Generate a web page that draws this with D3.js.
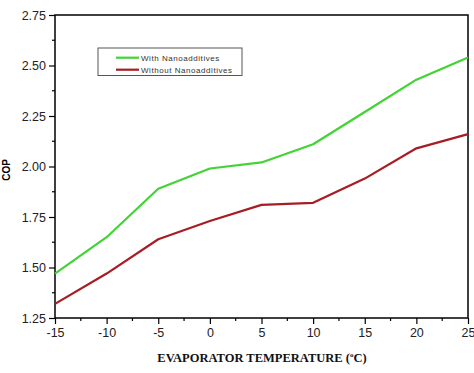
<!DOCTYPE html>
<html><head><meta charset="utf-8">
<script src="https://cdn.jsdelivr.net/npm/d3@7"></script>
<style>body{margin:0;background:#fff}</style>
</head><body>
<svg id="c" width="474" height="373"></svg>
<script>
const temps = [-15, -10, -5, 0, 5, 10, 15, 20, 25];
const withNano = [1.47, 1.65, 1.89, 1.99, 2.02, 2.11, 2.27, 2.43, 2.54];
const withoutNano = [1.32, 1.47, 1.64, 1.73, 1.81, 1.82, 1.94, 2.09, 2.16];
const seriesNames = ["With Nanoadditives", "Without Nanoadditives"];
const seriesColors = ["#42d334", "#a81c24"];
const yTicks = [1.25, 1.50, 1.75, 2.00, 2.25, 2.50, 2.75];
const xTicks = [-15, -10, -5, 0, 5, 10, 15, 20, 25];

const svg = d3.select("#c");
const L = 55, R = 468, T = 15, B = 318;
const x = d3.scaleLinear().domain([-15, 25]).range([L, R]);
const y = d3.scaleLinear().domain([1.25, 2.75]).range([B, T]);

// frame
svg.append("rect").attr("x", L).attr("y", T).attr("width", R - L).attr("height", B - T)
  .attr("fill", "none").attr("stroke", "#000").attr("stroke-width", 1.5);

// minor ticks
const xMinor = d3.range(-12.5, 25, 5);
const yMinor = d3.range(1.375, 2.75, 0.25);
svg.append("g").selectAll("line").data(xMinor).join("line")
  .attr("x1", d => x(d)).attr("x2", d => x(d)).attr("y1", B).attr("y2", B + 3)
  .attr("stroke", "#000").attr("stroke-width", 1.2);
svg.append("g").selectAll("line").data(yMinor).join("line")
  .attr("y1", d => y(d)).attr("y2", d => y(d)).attr("x1", L).attr("x2", L - 3)
  .attr("stroke", "#000").attr("stroke-width", 1.2);

const xAxis = svg.append("g").attr("transform", `translate(0,${B})`)
  .call(d3.axisBottom(x).tickValues(xTicks).tickSize(6).tickPadding(4).tickFormat(d => String(d)));
const yAxis = svg.append("g").attr("transform", `translate(${L},0)`)
  .call(d3.axisLeft(y).tickValues(yTicks).tickSize(6).tickPadding(3).tickFormat(d3.format(".2f")));
[xAxis, yAxis].forEach(a => {
  a.select(".domain").remove();
  a.selectAll("line").attr("stroke", "#000").attr("stroke-width", 1.2);
  a.selectAll("text").attr("font-family", "Liberation Sans, Arial, sans-serif")
    .attr("font-size", 12.5).attr("fill", "#222");
});

const line = d3.line().x((d, i) => x(temps[i])).y(d => y(d));
[withNano, withoutNano].forEach((s, i) => {
  svg.append("path").datum(s).attr("d", line).attr("fill", "none")
    .attr("stroke", seriesColors[i]).attr("stroke-width", 2.2).attr("stroke-linejoin", "round");
});

// legend
const lg = svg.append("g");
lg.append("rect").attr("x", 98).attr("y", 48).attr("width", 144).attr("height", 27.5)
  .attr("fill", "#fff").attr("stroke", "#555").attr("stroke-width", 1);
seriesNames.forEach((n, i) => {
  const yy = 57.7 + i * 12;
  lg.append("line").attr("x1", 116).attr("x2", 139).attr("y1", yy).attr("y2", yy)
    .attr("stroke", seriesColors[i]).attr("stroke-width", 2.2);
  lg.append("text").attr("x", 141).attr("y", yy + 3.2).text(n)
    .attr("font-family", "Liberation Sans, Arial, sans-serif").attr("font-size", 8)
    .attr("letter-spacing", 0.55).attr("fill", "#333");
});

// axis titles
svg.append("text").attr("transform", "translate(10,170) rotate(-90)")
  .attr("text-anchor", "middle").attr("font-family", "Liberation Sans, Arial, sans-serif")
  .attr("font-weight", "bold").attr("font-size", 10).text("COP");
const xt = svg.append("text").attr("x", 262).attr("y", 362).attr("text-anchor", "middle")
  .attr("font-family", "Liberation Serif, Times New Roman, serif").attr("font-weight", "bold")
  .attr("font-size", 12.5).attr("fill", "#111");
xt.append("tspan").text("EVAPORATOR TEMPERATURE (");
xt.append("tspan").text("o").attr("font-size", 7).attr("dy", -5);
xt.append("tspan").text("C)").attr("dy", 5);
</script>
</body></html>
